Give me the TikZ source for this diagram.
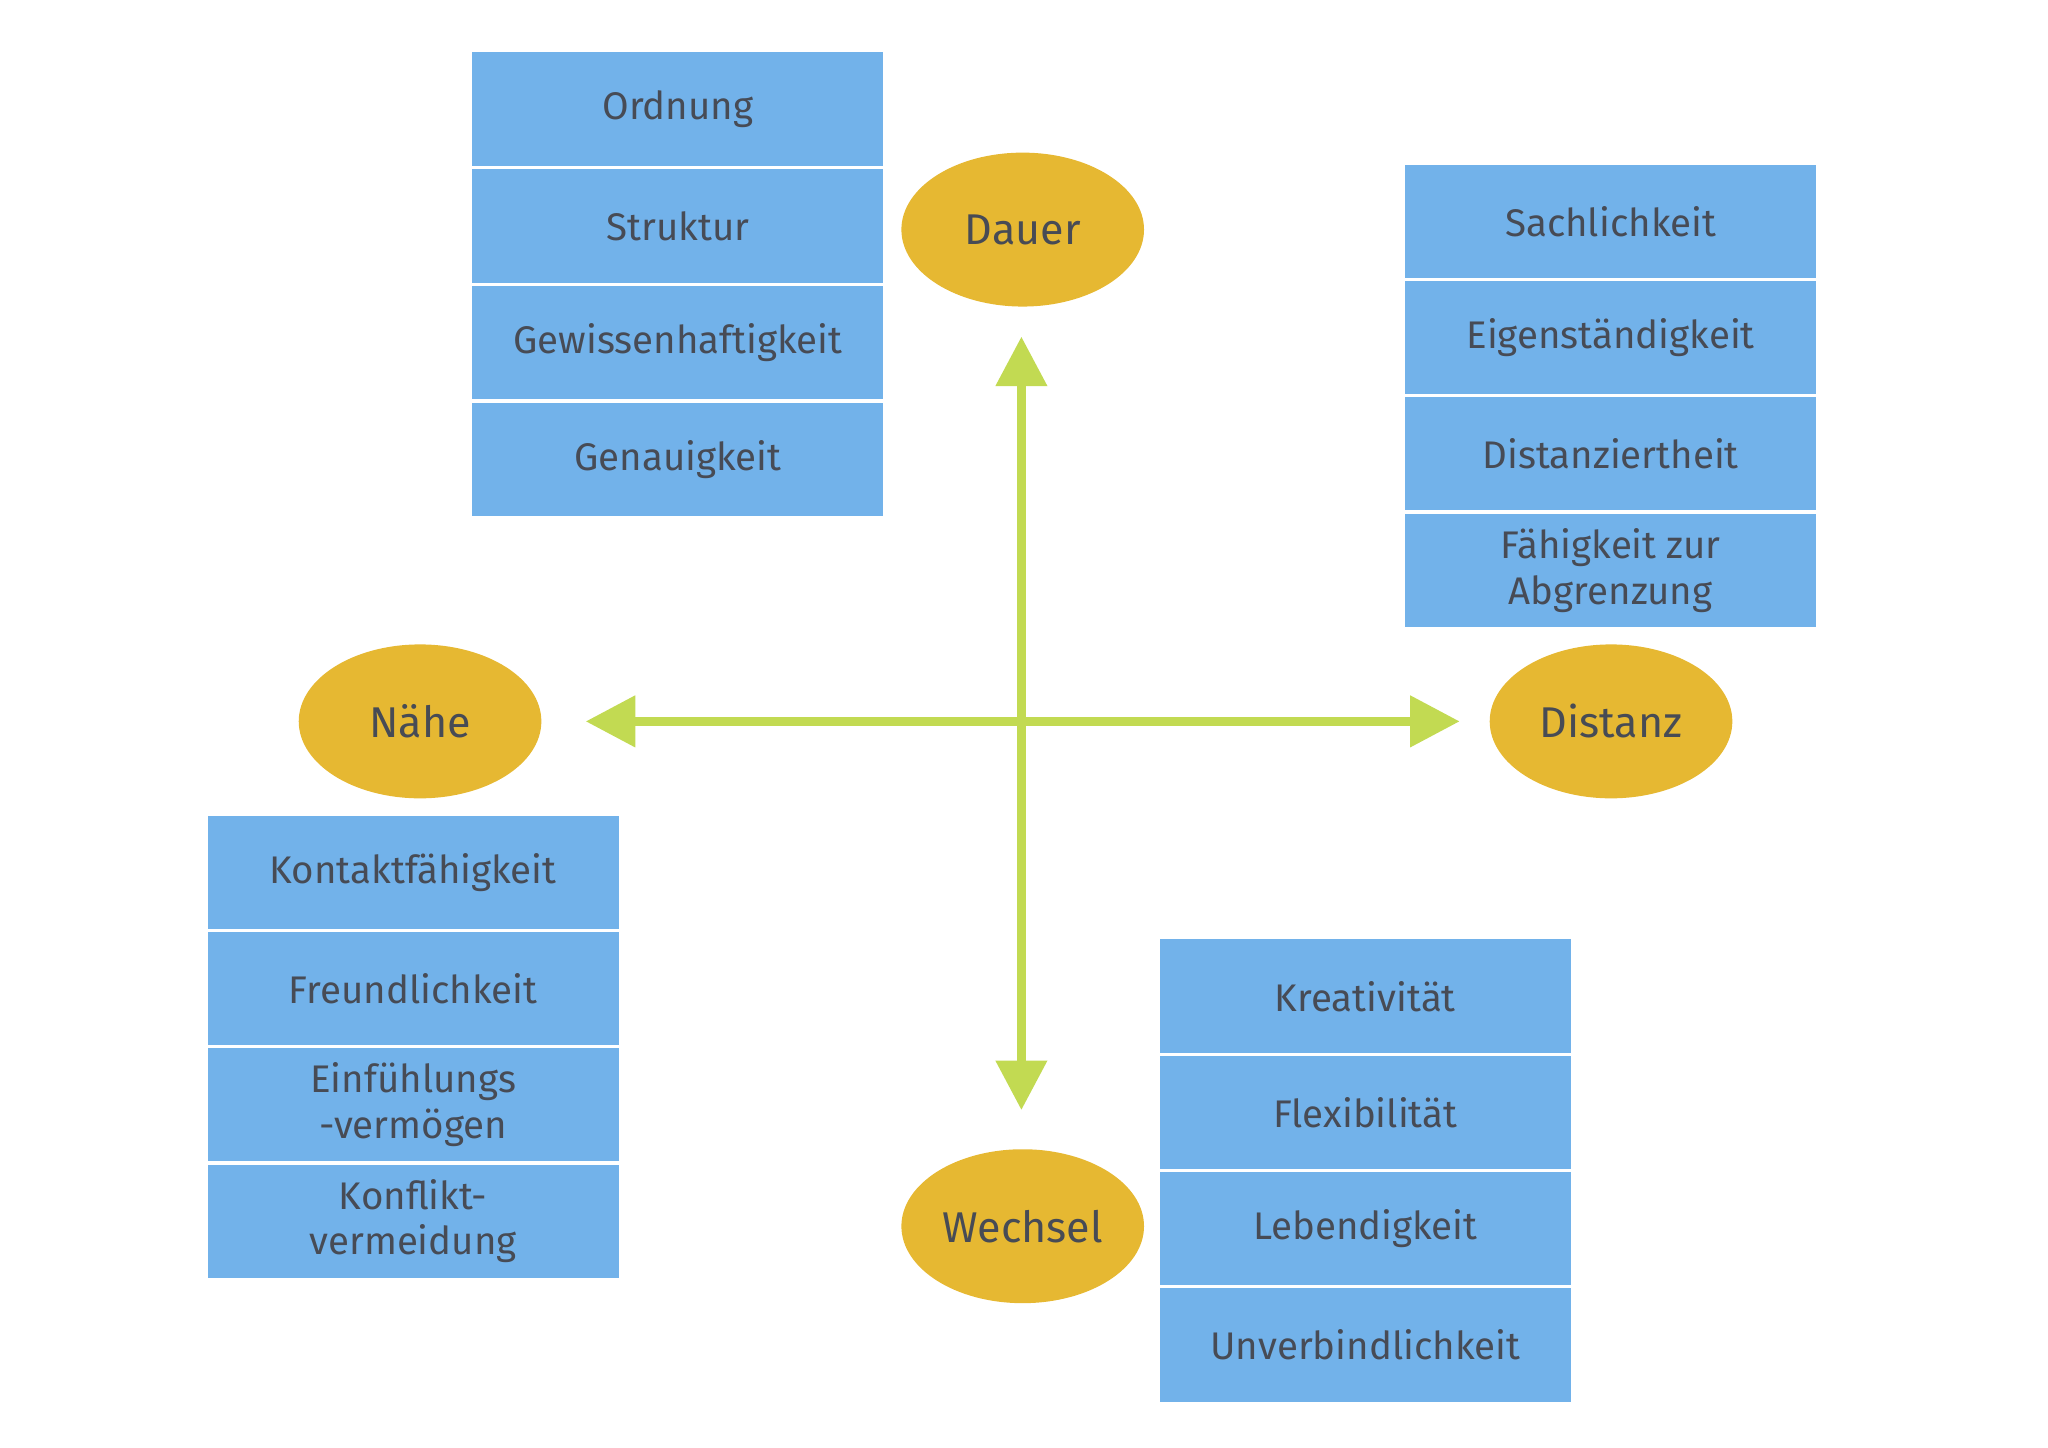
\documentclass[tikz,border=0pt]{standalone}
\usepackage{fontspec}
\setmainfont{Fira Sans}
\usetikzlibrary{arrows.meta,shapes.geometric}
\definecolor{cellblue}{HTML}{72B2EA}
\definecolor{gold}{HTML}{E6B832}
\definecolor{lgreen}{HTML}{C2DA52}
\definecolor{txt}{HTML}{474B55}
\begin{document}
\begin{tikzpicture}[x=1pt,y=-1pt,
  cell/.style={fill=cellblue,minimum width=315pt,minimum height=87pt,inner sep=0pt,anchor=north west,text=txt,font=\fontsize{29.5}{35}\selectfont,align=center},
  pole/.style={ellipse,fill=gold,minimum width=186pt,minimum height=118pt,inner sep=0pt,text=txt,font=\fontsize{33}{39}\selectfont},
  axis/.style={lgreen,line width=7pt,{Triangle[length=38pt,width=38pt]}-{Triangle[length=38pt,width=38pt]}}]
\useasboundingbox (0,0) rectangle (1570,1109.3);
% top left
\node[cell] (a1) at (362,40) {Ordnung};
\node[cell] (a2) at (362,129.5) {Struktur};
\node[cell] (a3) at (362,219) {Gewissenhaftigkeit};
\node[cell] (a4) at (362,308.5) {Genauigkeit};
% top right
\node[cell] (b1) at (1077,126) {Sachlichkeit};
\node[cell] (b2) at (1077,215) {Eigenständigkeit};
\node[cell] (b3) at (1077,304) {Distanziertheit};
\node[cell] (b4) at (1077,393.5) {Fähigkeit zur\\Abgrenzung};
% bottom left
\node[cell] (c1) at (159,625) {Kontaktfähigkeit};
\node[cell] (c2) at (159,714) {Freundlichkeit};
\node[cell] (c3) at (159,803) {Einfühlungs\\-vermögen};
\node[cell] (c4) at (159,892.5) {Konflikt-\\vermeidung};
% bottom right
\node[cell] (d1) at (889,720) {Kreativität};
\node[cell] (d2) at (889,809) {Flexibilität};
\node[cell] (d3) at (889,898) {Lebendigkeit};
\node[cell] (d4) at (889,987.5) {Unverbindlichkeit};
% poles
\node[pole] (dauer) at (784,176) {Dauer};
\node[pole] (naehe) at (322,553) {Nähe};
\node[pole] (distanz) at (1235,553) {Distanz};
\node[pole] (wechsel) at (784,940) {Wechsel};
% axes
\coordinate (vt) at (783,258);
\coordinate (vb) at (783,851);
\coordinate (hl) at (449,553);
\coordinate (hr) at (1119,553);
\draw[axis] (hl) -- (hr);
\draw[axis] (vt) -- (vb);
\end{tikzpicture}
\end{document}
